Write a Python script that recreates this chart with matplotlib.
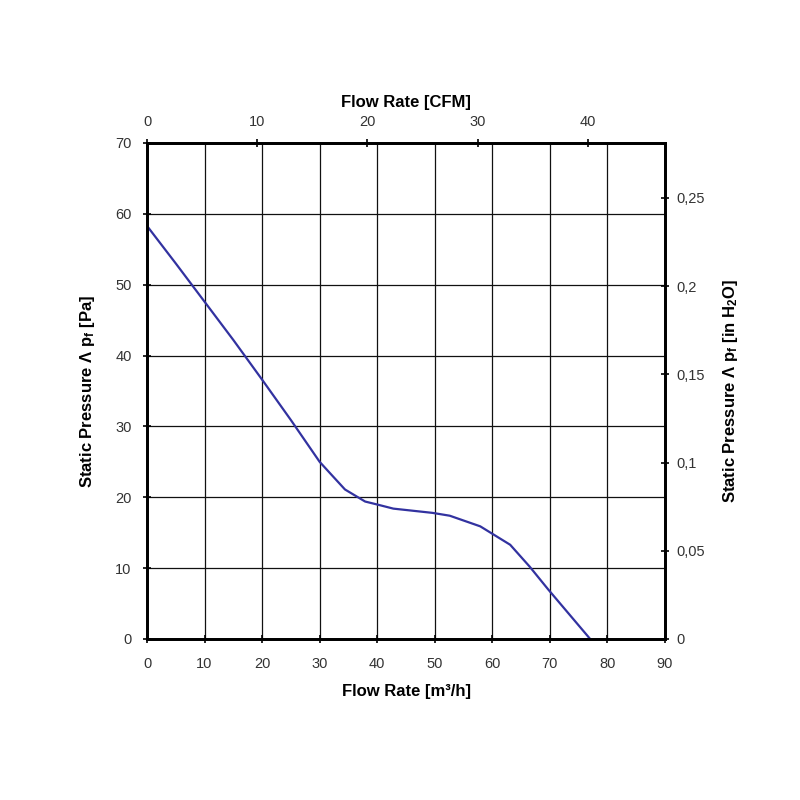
import matplotlib
matplotlib.use("Agg")
import matplotlib.pyplot as plt
from matplotlib.ticker import FixedLocator, FuncFormatter

plt.rcParams['font.family'] = ['Liberation Sans', 'DejaVu Sans']

# Data (flow in m3/h, static pressure in Pa)
flow_m3h = [0, 5, 10, 15, 20, 25, 30, 31.8, 34.4, 37.9, 39.9, 42.8,
            49.6, 52.6, 57.9, 59.7, 63.1, 66.5, 69.7, 77.0]
pressure_pa = [58.3, 53.0, 47.6, 42.2, 36.6, 30.9, 25.0, 23.4, 21.1, 19.4, 19.0, 18.4,
               17.8, 17.4, 15.9, 15.0, 13.3, 10.2, 7.0, 0]

x_ticks = [0, 10, 20, 30, 40, 50, 60, 70, 80, 90]
y_ticks = [0, 10, 20, 30, 40, 50, 60, 70]
cfm_ticks = [0, 10, 20, 30, 40]
inh2o_ticks = [0, 0.05, 0.1, 0.15, 0.2, 0.25]

M3H_PER_CFM = 90 / 47.0
PA_PER_INH2O = 249.09

fig = plt.figure(figsize=(8, 8), dpi=100)
ax = fig.add_axes([0.18375, 0.20125, 0.6475, 0.62])

ax.plot(flow_m3h, pressure_pa, color='#3232a0', lw=1.6, zorder=3)
ax.set_xlim(0, 90)
ax.set_ylim(0, 70)
ax.set_xticks(x_ticks)
ax.set_yticks(y_ticks)
ax.grid(True, color='#111111', lw=0.9)
for s in ax.spines.values():
    s.set_linewidth(1.8)
    s.set_color('black')
ax.tick_params(axis='x', direction='inout', length=6, width=1.2, labelsize=10.5,
               labelcolor='#333333', pad=10)
ax.tick_params(axis='y', direction='inout', length=6, width=1.2, labelsize=10.5,
               labelcolor='#333333', pad=8)
ax.set_xlabel('Flow Rate [m³/h]', fontsize=12, fontweight='bold', labelpad=9)
ax.set_ylabel(r'Static Pressure Λ $\mathregular{p_f}$ [Pa]', fontsize=12,
              fontweight='bold', labelpad=13)

# Top axis: CFM
axt = ax.twiny()
axt.set_xlim(0, 90)
axt.xaxis.set_major_locator(FixedLocator([c * M3H_PER_CFM for c in cfm_ticks]))
axt.xaxis.set_major_formatter(FuncFormatter(lambda v, p: f"{round(v / M3H_PER_CFM):d}"))
axt.tick_params(direction='inout', length=6, width=1.2, labelsize=10.5,
                labelcolor='#333333', pad=7)
axt.set_xlabel('Flow Rate [CFM]', fontsize=12, fontweight='bold', labelpad=6)

# Right axis: inH2O
axr = ax.twinx()
axr.set_ylim(0, 70)
axr.yaxis.set_major_locator(FixedLocator([v * PA_PER_INH2O for v in inh2o_ticks]))
def fmt_in(v, p):
    s = f"{v / PA_PER_INH2O:.2f}".rstrip('0').rstrip('.')
    return s.replace('.', ',')
axr.yaxis.set_major_formatter(FuncFormatter(fmt_in))
axr.tick_params(direction='inout', length=6, width=1.2, labelsize=10.5,
                labelcolor='#333333', pad=5)
axr.set_ylabel(r'Static Pressure Λ $\mathregular{p_f}$ [in $\mathregular{H_2O}$]',
               fontsize=12, fontweight='bold', labelpad=12)
for a in (axt, axr):
    for s in a.spines.values():
        s.set_linewidth(1.8)

fig.savefig('out.png', dpi=100, facecolor='white')
